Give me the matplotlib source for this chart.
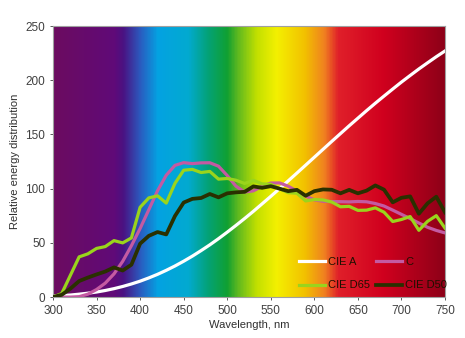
import numpy as np
import matplotlib
matplotlib.use("Agg")
import matplotlib.pyplot as plt
from matplotlib.colors import LinearSegmentedColormap

plt.rcParams["font.family"] = ["Liberation Sans", "DejaVu Sans"]

wavelength = np.arange(300, 751, 10)

cie_a = [0.9, 1.4, 1.9, 2.7, 3.6, 4.7, 6.1, 7.8, 9.8, 12.1, 14.7, 17.7, 21.0, 24.7,
         28.7, 33.1, 37.8, 42.9, 48.2, 53.9, 59.9, 66.1, 72.5, 79.1, 86.0, 92.9,
         100.0, 107.2, 114.4, 121.7, 129.0, 136.3, 143.6, 150.8, 158.0, 165.0,
         172.0, 178.8, 185.4, 191.9, 198.3, 204.4, 210.4, 216.1, 221.7, 227.0]
cie_c = [0.0, 0.0, 0.0, 0.4, 2.7, 7.0, 12.9, 21.4, 33.0, 47.4, 63.3, 80.6, 98.1,
         112.4, 121.5, 124.0, 123.1, 123.8, 123.9, 120.7, 112.1, 102.3, 96.9, 98.0,
         102.1, 105.2, 105.3, 102.3, 97.8, 93.2, 89.7, 88.4, 88.1, 88.0, 87.8, 88.2,
         87.9, 86.3, 84.0, 80.2, 76.3, 72.4, 68.3, 64.4, 61.5, 59.2]
cie_d65 = [0.0, 3.3, 20.2, 37.1, 39.9, 44.9, 46.6, 52.1, 50.0, 54.6, 82.8, 91.5,
           93.4, 86.7, 104.9, 117.0, 117.8, 114.9, 115.9, 108.8, 109.4, 107.8,
           104.8, 107.7, 104.4, 104.0, 100.0, 96.3, 95.8, 88.7, 90.0, 89.6, 87.7,
           83.3, 83.7, 80.0, 80.2, 82.3, 78.3, 69.7, 71.6, 74.3, 61.6, 69.9, 75.1, 63.6]
cie_d50 = [0.0, 2.1, 7.8, 14.8, 18.0, 20.9, 23.6, 27.4, 24.5, 29.9, 49.3, 56.5,
           60.0, 57.8, 74.8, 87.2, 90.6, 91.4, 95.1, 92.0, 95.7, 96.6, 97.1, 102.1,
           100.8, 102.3, 100.0, 97.7, 98.9, 93.5, 97.7, 99.3, 99.0, 95.7, 98.9, 95.7,
           98.2, 103.0, 99.1, 87.4, 91.6, 92.9, 76.9, 86.5, 92.6, 78.2]

# spectrum backdrop (position along 300-750 nm, colour)
spec_pos = [300, 370, 380, 400, 420, 455, 478, 500, 512, 534, 557, 590, 612, 628, 680, 750]
spec_col = ["#6c0c60", "#600a78", "#4a1282", "#2a5cc0", "#04a2e2", "#02aad0",
            "#04a276", "#10a032", "#5cb820", "#c2e000", "#f4f000", "#f2c000",
            "#f08020", "#e0202a", "#d0001e", "#8e0018"]

cmap = LinearSegmentedColormap.from_list(
    "spec", [((p - 300) / 450, c) for p, c in zip(spec_pos, spec_col)])

fig = plt.figure(figsize=(4.65, 3.38), dpi=100)
ax = fig.add_axes([0.114, 0.121, 0.843, 0.802])

grad = np.linspace(0, 1, 900).reshape(1, -1)
ax.imshow(grad, cmap=cmap, extent=[300, 750, 0, 250], aspect="auto", zorder=0)

la, = ax.plot(wavelength, cie_a, color="white", lw=2.3, label="CIE A", zorder=2)
lc, = ax.plot(wavelength, cie_c, color="#c45aa2", lw=2.3, label="C", zorder=3)
l65, = ax.plot(wavelength, cie_d65, color="#9ad41c", lw=2.3, label="CIE D65", zorder=4)
l50, = ax.plot(wavelength, cie_d50, color="#2a3000", lw=2.7, label="CIE D50", zorder=5)

ax.set_xlim(300, 750)
ax.set_ylim(0, 250)
ax.set_xticks(range(300, 751, 50))
ax.set_yticks(range(0, 251, 50))
ax.tick_params(labelsize=8.5, colors="#404040", length=2, width=0.6)
for s in ax.spines.values():
    s.set_color("#a0a0a0")
    s.set_linewidth(0.8)

ax.set_xlabel("Wavelength, nm", fontsize=8, color="#303030", labelpad=2)
ax.set_ylabel("Relative energy distribution", fontsize=8, color="#303030", labelpad=4)

# row-wise order: CIE A, C / CIE D65, CIE D50
leg = ax.legend([la, l65, lc, l50], ["CIE A", "CIE D65", "C", "CIE D50"],
                ncol=2, frameon=False, fontsize=8, loc="lower left",
                bbox_to_anchor=(0.615, 0.008), borderaxespad=0,
                handlelength=2.4, handletextpad=0.25,
                columnspacing=0.5, labelspacing=1.25)
for t in leg.get_texts():
    t.set_color("#201000")

fig.savefig("out.png", dpi=100)
